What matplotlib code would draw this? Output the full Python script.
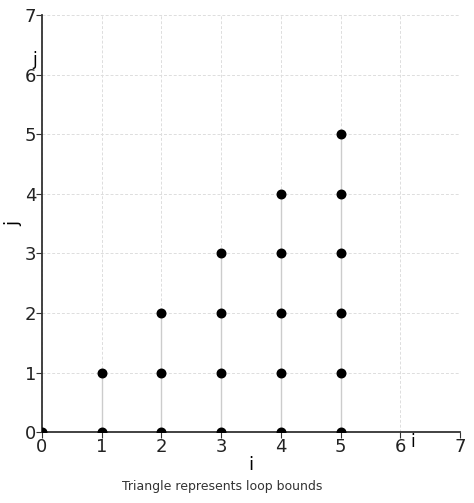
import matplotlib.pyplot as plt
import numpy as np

# puntos del espacio de iteraciones (triangulo)
i_vals = [0, 1, 1, 2, 2, 2, 3, 3, 3, 3, 4, 4, 4, 4, 4, 5, 5, 5, 5, 5, 5]
j_vals = [0, 0, 1, 0, 1, 2, 0, 1, 2, 3, 0, 1, 2, 3, 4, 0, 1, 2, 3, 4, 5]
cols = [1, 2, 3, 4, 5]
ticks = list(range(0, 8))

fig = plt.figure(figsize=(4.74, 5.03), dpi=100)
ax = fig.add_axes([0.0886, 0.141, 0.882, 0.829])

ax.grid(True, linestyle=(0, (3, 2)), color='#dddddd', linewidth=0.7)
ax.set_axisbelow(True)
ax.vlines(cols, 0, cols, color='#cccccc', linewidth=1.0, zorder=1)
ax.scatter(i_vals, j_vals, s=38, color='black', zorder=3, clip_on=True)

ax.set_xlim(0, 7)
ax.set_ylim(0, 7)
ax.set_xticks(ticks)
ax.set_yticks(ticks)
ax.tick_params(labelsize=13, length=4, color='#333333', labelcolor='#222222', pad=0)
for s in ['top', 'right']:
    ax.spines[s].set_visible(False)
for s in ['left', 'bottom']:
    ax.spines[s].set_color('#333333')
    ax.spines[s].set_linewidth(1.3)

ax.set_xlabel('i', fontsize=13, labelpad=0)
ax.set_ylabel('j', fontsize=13, labelpad=2)
ax.text(6.2, -0.02, 'i', fontsize=12, ha='center', va='top', clip_on=False)
ax.text(-0.12, 6.25, 'j', fontsize=12, ha='center', va='center', clip_on=False)

fig.text(0.468, 0.032, 'Triangle represents loop bounds', ha='center', va='center',
         fontsize=9, color='#333333')

plt.savefig('out.png', dpi=100)
